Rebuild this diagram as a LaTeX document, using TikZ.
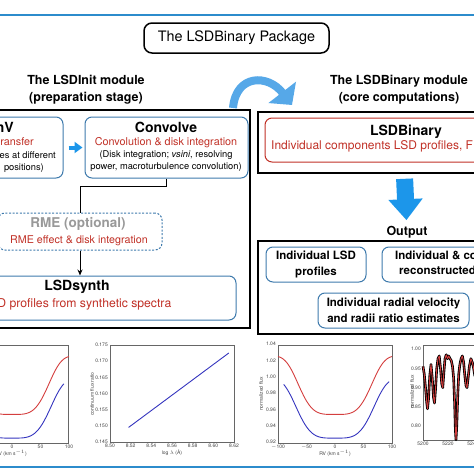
\documentclass[tikz,border=0pt]{standalone}
\usepackage{fontspec}
\setmainfont{TeX Gyre Heros}
\usetikzlibrary{positioning, arrows.meta}
\definecolor{boxblue}{RGB}{62,122,172}
\definecolor{txtred}{RGB}{192,48,38}
\definecolor{arrblue}{RGB}{28,150,234}
\definecolor{arcblue}{RGB}{86,168,232}
\definecolor{ruleblue}{RGB}{44,140,204}
\definecolor{plotred}{RGB}{212,62,62}
\definecolor{plotblue}{RGB}{52,52,190}

\begin{document}
\begin{tikzpicture}[x=1pt, y=-1pt,
    frame/.style={draw=black, line width=1.6pt, inner sep=0pt},
    box/.style={draw=boxblue, line width=1pt, rounded corners=7pt, inner sep=0pt},
    optbox/.style={box, dash pattern=on 2pt off 1.6pt},
    head/.style={font=\fontsize{14}{16}\selectfont\bfseries, inner sep=0pt, anchor=mid},
    modl/.style={font=\fontsize{12.5}{17}\selectfont\bfseries, align=center, inner sep=0pt},
    redl/.style={font=\fontsize{10.8}{12}\selectfont, text=txtred, inner sep=0pt, anchor=mid},
    note/.style={font=\fontsize{9.3}{10}\selectfont, inner sep=0pt, anchor=mid},
    outl/.style={font=\fontsize{11.5}{15.5}\selectfont\bfseries, align=center},
    tk/.style={font=\fontsize{5}{6}\selectfont, inner sep=1pt, text=black!75},
    axis/.style={draw=black!60, line width=0.5pt},
    link/.style={draw=black, line width=1pt},
    flow/.style={draw=arrblue, line width=4pt, -{Triangle[width=11pt,length=8pt]}},
    fat/.style={draw=arrblue, line width=17pt, -{Triangle[width=33pt,length=21pt]}},
    swing/.style={draw=arcblue, line width=8pt, -{Triangle[width=34pt,length=16pt]}}
]
\useasboundingbox (0,0) rectangle (474,474);
\clip (0,0) rectangle (474,474);

\draw[ruleblue, line width=1.5pt] (0,15) -- (474,15);
\draw[ruleblue, line width=1.5pt] (0,467) -- (474,467);

\node[draw, line width=1.5pt, rounded corners=8pt, minimum width=185pt, minimum height=30pt, font=\fontsize{14.4}{16}\selectfont] (pkg) at (236.5,38) {The LSDBinary Package};

\node[modl] (initl) at (86,90) {The LSDInit module\\(preparation stage)};
\node[modl] (binl) at (399,90) {The LSDBinary module\\(core computations)};

\coordinate (sw1) at (233,108);
\coordinate (sw2) at (292,105);
\draw[swing] (sw1) .. controls (236,74) and (268,74) .. (sw2);

% LSDInit
\node[frame, minimum width=255pt, minimum height=218pt] (initfr) at (122.5,219) {};

\node[box, minimum width=123pt, minimum height=61pt] (sv) at (1.5,147.5) {};
\node[head, anchor=mid east] (svA) at (14,130) {hV};
\node[redl, anchor=mid east] (svB) at (34,143) {ransfer};
\node[note, anchor=mid east] (svC) at (56,156) {es at different};
\node[note, anchor=mid east] (svD) at (44,168) {positions)};

\node[box, minimum width=163pt, minimum height=61pt] (conv) at (166.5,147.5) {};
\node[head] (convA) at (166,130) {Convolve};
\node[redl] (convB) at (166,143) {Convolution \& disk integration};
\node[note] (convC) at (166,155) {(Disk integration; \textit{vsini}, resolving};
\node[note] (convD) at (166,167) {power, macroturbulence convolution)};

\node[optbox, minimum width=164pt, minimum height=37pt] (rme) at (80,231.5) {};
\node[head, text=black!40, font=\fontsize{13.5}{15}\selectfont\bfseries] (rmeA) at (78,225) {RME (optional)};
\node[redl, font=\fontsize{10.7}{12}\selectfont] (rmeB) at (79,241) {RME effect \& disk integration};

\node[box, minimum width=316pt, minimum height=44pt] (syn) at (78,298) {};
\node[head] (synA) at (77,288) {LSDsynth};
\node[redl, font=\fontsize{12.2}{14}\selectfont] (synB) at (77,305) {LSD profiles from synthetic spectra};

\draw[flow, shorten <=5pt, shorten >=2pt] (sv) -- (conv);
\draw[link] (conv.south) -- ++(0,8) -| (rme.north);
\draw[link, -{Stealth[length=6pt,width=5pt]}] (rme.south) -- (rme.south |- syn.north);

% LSDBinary
\node[frame, minimum width=290pt, minimum height=61pt] (binfr) at (403,142.5) {};
\node[draw=txtred, line width=1pt, rounded corners=7pt, minimum width=276pt, minimum height=44pt] (binbox) at (403,140) {};
\node[head] (binA) at (406,133) {LSDBinary};
\node[redl, anchor=mid west, font=\fontsize{12}{14}\selectfont] (binB) at (271,147) {Individual components LSD profiles, F};

\node[head, font=\fontsize{12.5}{14}\selectfont\bfseries] (outt) at (407,233) {Output};
\draw[fat, shorten <=5pt, shorten >=6pt] (binfr) -- (outt);

\node[frame, minimum width=290pt, minimum height=93pt] (outfr) at (403,287.5) {};
\node[box, outl, minimum width=100pt, minimum height=35pt] (o1) at (316,264.5) {Individual LSD\\profiles};
\node[box, minimum width=138pt, minimum height=35pt] (o2) at (451,264.5) {};
\node[outl, inner sep=0pt, anchor=mid west] (o2A) at (395,257) {Individual \& co};
\node[outl, inner sep=0pt, anchor=mid west] (o2B) at (399,272) {reconstructed};
\node[box, outl, minimum width=151pt, minimum height=35pt] (o3) at (393.5,310.5) {Individual radial velocity\\and radii ratio estimates};

% plot 1
\draw[axis] (-46,345) rectangle (68,443);
\foreach \v [count=\i] in {0,50,100}
  \node[tk, anchor=north] (p1x\i) at ({12+0.57*\v},444) {\v};
\node[tk] (p1l) at (11,453) {RV (km s$^{-1}$)};
\begin{scope}[shift={(12,345)}, x=0.57pt, y=816.7pt]
  \draw[plotred, line width=0.9pt] plot[domain=-100:100, samples=81, smooth] (\x, {-0.013-0.072*exp(-(\x*\x/4900)^2)});
  \draw[plotblue, line width=0.9pt] plot[domain=-90:91, samples=81, smooth] (\x, {-0.04-0.074*exp(-(\x*\x/5476)^2)});
\end{scope}

% plot 2
\draw[axis] (110,345) rectangle (234,442);
\foreach \v/\t [count=\i] in {175/0.175,170/0.170,165/0.165,160/0.160,155/0.155,150/0.150,145/0.145}
  \node[tk, anchor=east] (p2y\i) at (109,{345+(175-\v)*3.233}) {\t};
\foreach \v [count=\i] in {50,52,...,62}
  \node[tk, anchor=north] (p2x\i) at ({110+(\v-50)*10.33},443) {8.\v};
\node[tk, rotate=90] (p2yl) at (92,394) {continuum flux ratio};
\node[tk] (p2xl) at (172,453) {log $\lambda$ (Å)};
\draw[plotblue, line width=0.9pt] (128.6,427.4) -- (228.8,353);

% plot 3
\draw[axis] (278,345) rectangle (392,443);
\foreach \v/\t [count=\i] in {104/1.04,102/1.02,100/1.00,98/0.98,96/0.96,94/0.94,92/0.92}
  \node[tk, anchor=east] (p3y\i) at (277,{344+(104-\v)*8.167}) {\t};
\foreach \v/\t [count=\i] in {-100/$-$100,-50/$-$50,0/0,50/50,100/100}
  \node[tk, anchor=north] (p3x\i) at ({335+0.57*\v},444) {\t};
\node[tk, rotate=90] (p3yl) at (261,394) {normalized flux};
\node[tk] (p3xl) at (335,453) {RV (km s$^{-1}$)};
\begin{scope}[shift={(335,345)}, x=0.57pt, y=816.7pt]
  \draw[plotred, line width=0.9pt] plot[domain=-100:100, samples=81, smooth] (\x, {-0.013-0.072*exp(-(\x*\x/4900)^2)});
  \draw[plotblue, line width=0.9pt] plot[domain=-90:95, samples=81, smooth] (\x, {-0.04-0.074*exp(-(\x*\x/5476)^2)});
\end{scope}

% plot 4
\draw[axis] (423,345) rectangle (560,440);
\foreach \v/\t [count=\i] in {100/1.00,95/0.95,90/0.90,85/0.85,80/0.80}
  \node[tk, anchor=east] (p4y\i) at (422,{349+(100-\v)*3.86}) {\t};
\foreach \v [count=\i] in {5200,5220,5240}
  \node[tk, anchor=north] (p4x\i) at ({423+(\v-5200)*1.25},441) {\v};
\node[tk, rotate=90] (p4yl) at (412,392) {normalized flux};
\node[tk] (p4xl) at (493,453) {Wavelength (Å)};
\begin{scope}[shift={(423,735)}, x=1.25pt, y=386pt]
  \foreach \c/\w in {black/2.6pt, plotred/0.9pt}
  \draw[\c, line width=\w, line join=round] plot coordinates {(0,0.955) (1,0.935) (2,0.90) (3,0.86) (3.6,0.845) (4.4,0.87) (5.4,0.93) (6.4,0.96) (7.4,0.925) (8.4,0.875) (9.2,0.86) (10,0.895) (11,0.95) (12,0.975) (13,0.982) (14,0.95) (15,0.91) (15.8,0.90) (16.6,0.935) (17.6,0.975) (18.6,0.985) (19.6,0.975) (20.6,0.982) (21.6,0.975) (22.6,0.97) (23.6,0.955) (24.5,0.925) (25.3,0.86) (25.9,0.79) (26.4,0.765) (27,0.80) (27.8,0.88) (28.6,0.935) (29.5,0.96) (30.5,0.975) (31.5,0.982) (32.5,0.965) (33.5,0.93) (34.4,0.905) (35.2,0.90) (36.1,0.925) (37.1,0.955) (38.3,0.975) (39.5,0.965) (40.5,0.95) (41.5,0.93) (42.5,0.945) (43.5,0.97) (45,0.96)};
\end{scope}
\end{tikzpicture}
\end{document}
